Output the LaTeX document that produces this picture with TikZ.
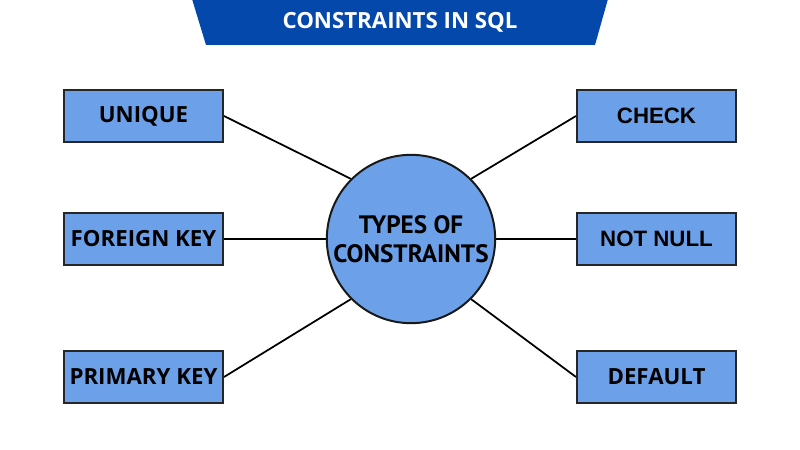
\documentclass[tikz,border=0pt]{standalone}
\usepackage{fontspec}
\setmainfont{Open Sans}
\newfontfamily\arialfont{Liberation Sans}
\newfontfamily\narrowfont{PT Sans}
\usetikzlibrary{positioning}
\definecolor{bannerblue}{RGB}{4,72,172}
\definecolor{boxblue}{RGB}{108,161,234}
\tikzset{
  kind/.style={
    rectangle,
    draw=black!85, line width=1.7pt,
    fill=boxblue,
    minimum width=4.77cm,
    minimum height=1.56cm,
    inner sep=0pt,
    text centered,
    font=\fontsize{19}{22}\selectfont\bfseries},
  hub/.style={
    circle,
    draw=black!90, line width=1.7pt,
    fill=boxblue,
    minimum size=5.05cm,
    inner sep=0pt,
    align=center,
    font=\narrowfont\fontsize{21.5}{25}\selectfont\bfseries},
}

\begin{document}
\begin{tikzpicture}[
    x=0.03cm, y=-0.03cm,
    spoke/.style={line width=1.5pt, black}
    ]
    \useasboundingbox (0,0) rectangle (800,450);

    % banner
    \fill[bannerblue] (192,-1) -- (608,-1) -- (595,45) -- (206,45) -- cycle;
    \node(title) at (400,22) [text=white, font=\fontsize{19}{22}\selectfont\bfseries] {CONSTRAINTS IN SQL};

    % centre
    \node(types)[hub] at (411,239) {TYPES OF\\CONSTRAINTS};

    % left column
    \node(unique)[kind] at (143.5,116) {UNIQUE};
    \node(foreign)[kind] at (143.5,239) {FOREIGN KEY};
    \node(primary)[kind] at (143.5,377) {PRIMARY KEY};

    % right column
    \node(check)[kind, font=\arialfont\fontsize{19}{22}\selectfont\bfseries] at (656.5,116) {CHECK};
    \node(notnull)[kind, font=\arialfont\fontsize{19}{22}\selectfont\bfseries] at (656.5,239) {NOT NULL};
    \node(default)[kind] at (656.5,377) {DEFAULT};

    % spokes
    \draw[spoke] (unique.east) -- (types.135);
    \draw[spoke] (foreign.east) -- (types.west);
    \draw[spoke] (primary.east) -- (types.225);
    \draw[spoke] (check.west) -- (types.45);
    \draw[spoke] (notnull.west) -- (types.east);
    \draw[spoke] (default.west) -- (types.-45);

\end{tikzpicture}
\end{document}
